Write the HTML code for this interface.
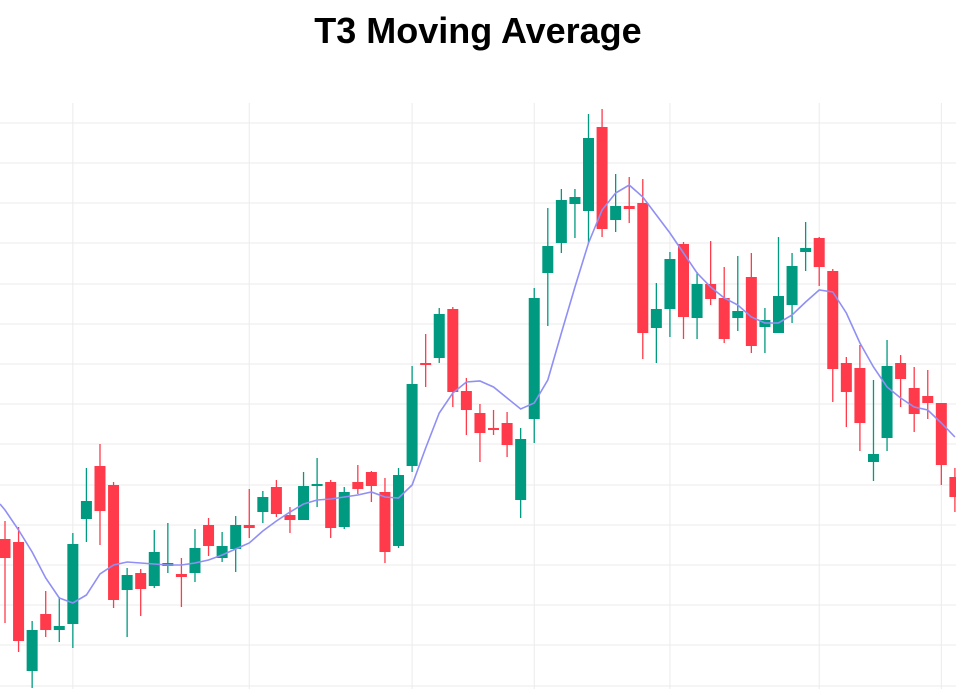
<!DOCTYPE html>
<html><head><meta charset="utf-8"><style>
html,body{margin:0;padding:0;background:#fff;width:956px;height:689px;overflow:hidden}
#title{position:absolute;left:0;top:10px;width:956px;text-align:center;font:bold 36px "Liberation Sans",sans-serif;color:#000}
svg{position:absolute;left:0;top:0}
</style></head><body>
<div id="title">T3 Moving Average</div>
<svg id="chart" width="956" height="689"></svg>
<script>
const opens=[161,158,29,86,70,76,181,234,215,110,127,114,134,126,127,175,142,151,175,188,213,185,180,214,218,173,218,228,208,154,234,337,342,391,309,287,272,277,200,281,427,457,496,489,573,480,494,497,372,391,456,382,416,402,382,423,373,367,395,448,462,429,337,332,238,262,337,312,304,297,223];
const closes=[142,59,70,70,74,156,199,189,100,125,111,148,137,123,152,154,154,175,172,203,186,180,214,216,172,208,211,214,148,225,316,336,386,308,290,267,270,255,261,402,454,500,503,562,471,494,491,367,391,441,383,416,401,361,389,354,380,404,434,452,433,331,308,277,246,334,321,286,297,235,203];
const highs=[179,173,79,109,103,167,232,256,218,132,131,170,177,142,171,182,168,184,211,209,220,193,228,242,220,213,235,229,222,232,334,366,392,393,322,296,290,288,272,412,492,511,511,586,591,526,523,521,417,448,458,428,459,433,444,447,392,463,447,478,463,431,343,355,320,360,345,333,330,297,232];
const lows=[77,48,12,63,58,52,158,155,92,63,84,112,127,93,118,144,138,128,162,177,183,167,180,193,162,171,206,198,137,152,228,313,337,293,265,238,265,243,182,257,374,447,462,457,463,468,477,341,337,363,361,361,395,357,369,347,347,367,377,429,414,298,273,249,219,249,293,268,281,215,188];
const t3=[190,170,148,122,102,97,105,126,135,138,137,136,135,135,137,140,145,151,157,169,179,188,196,200,201,203,205,208,203,202,215,252,287,307,318,319,313,302,291,297,320,367,413,457,490,507,515,503,485,467,447,427,413,402,395,383,377,377,385,398,410,408,387,357,333,313,302,293,290,277,263];
const gridVals=[577,537,497,457,416,376,336,296,256,215,175,135,95,55,14];
const xTickIdx=[5,18,30,39,49,60,69];
const svg=document.getElementById('chart');
const NS='http://www.w3.org/2000/svg';
const xS=i=>5+i*13.57;
const yS=v=>700-v;
function mk(t,a){const e=document.createElementNS(NS,t);for(const k in a)e.setAttribute(k,a[k]);svg.appendChild(e);return e;}
gridVals.forEach(v=>{const l=mk('line',{x1:0,x2:956,y1:yS(v),y2:yS(v),stroke:'#ebebeb','stroke-width':1});

});
xTickIdx.forEach(i=>{const l=mk('line',{x1:xS(i),x2:xS(i),y1:103,y2:689,stroke:'#ebebeb','stroke-width':1});

});
for(let i=0;i<opens.length;i++){
 const up=closes[i]>=opens[i];const c=up?'#009a80':'#ff3a4a';const x=xS(i);
 const w=mk('line',{x1:x,x2:x,y1:yS(highs[i]),y2:yS(lows[i]),stroke:c,'stroke-width':1.3});
 
 
 const top=yS(Math.max(opens[i],closes[i]));const h=Math.max(2,Math.abs(opens[i]-closes[i]));
 const b=mk('rect',{x:x-5.5,y:top,width:11,height:h,fill:c});
 
 
}
const pts=t3.map((v,i)=>xS(i)+','+yS(v));pts.unshift('0,'+yS(196));
const pl=mk('polyline',{points:pts.join(' '),fill:'none',stroke:'#8f8ff5','stroke-width':1.6});


</script>
</body></html>
